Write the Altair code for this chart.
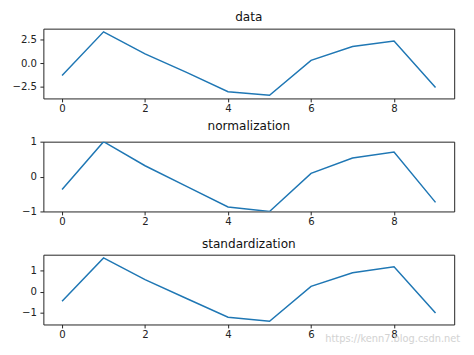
import altair as alt
import pandas as pd

xs = [0, 1, 2, 3, 4, 5, 6, 7, 8, 9]
data_vals = [-1.29, 3.33, 1.00, -0.95, -2.99, -3.37, 0.31, 1.77, 2.36, -2.54]
norm_vals = [-0.37, 1.00, 0.31, -0.28, -0.87, -1.00, 0.09, 0.53, 0.70, -0.74]
std_vals = [-0.45, 1.60, 0.57, -0.32, -1.21, -1.40, 0.25, 0.90, 1.18, -1.01]

titles = ["data", "normalization", "standardization"]
y_domains = [[-3.705, 3.665], [-1, 1], [-1.55, 1.75]]
y_ticks = [[-2.5, 0.0, 2.5], [-1.0, 0.0, 1.0], [-1.0, 0.0, 1.0]]
y_formats = [".1f", ".0f", ".0f"]
x_ticks = [0, 2, 4, 6, 8]

FONT = "DejaVu Sans"
W, H = 418, 71


def panel(vals, title, ydom, yt, yf, watermark=False):
    df = pd.DataFrame({"x": xs, "y": vals})
    line = alt.Chart(df).mark_line(color="#1f77b4", strokeWidth=1.5, clip=True).encode(
        x=alt.X("x:Q", scale=alt.Scale(domain=[-0.45, 9.45], nice=False, zero=False),
                axis=alt.Axis(values=x_ticks, format="d", title=None, grid=False,
                              domain=False, tickColor="#222", tickSize=3.5,
                              labelPadding=2, labelFontSize=10.3, labelColor="#222",
                              labelFont=FONT, labelOverlap=False)),
        y=alt.Y("y:Q", scale=alt.Scale(domain=ydom, nice=False, zero=False),
                axis=alt.Axis(values=yt, format=yf, title=None, grid=False,
                              domain=False, tickColor="#222", tickSize=3.5,
                              labelPadding=3.5, labelFontSize=10.3, labelColor="#222",
                              labelFont=FONT, minExtent=33, labelOverlap=False,
                              labelFlush=False, labelBound=False)),
    )
    layers = [line]
    if watermark:
        wm = alt.Chart(pd.DataFrame({"t": ["https://kenn7.blog.csdn.net"]})).mark_text(
            align="right", baseline="middle", fontSize=10, font=FONT, color="#c8c8c8",
            opacity=0.8
        ).encode(text="t:N", x=alt.value(W + 6), y=alt.value(H + 15))
        layers.append(wm)
    return alt.layer(*layers).properties(
        width=W, height=H,
        title=alt.TitleParams(title, fontSize=12.3, font=FONT, fontWeight="normal",
                              color="#111", offset=5, anchor="middle"),
    )


chart = alt.vconcat(
    panel(data_vals, titles[0], y_domains[0], y_ticks[0], y_formats[0]),
    panel(norm_vals, titles[1], y_domains[1], y_ticks[1], y_formats[1]),
    panel(std_vals, titles[2], y_domains[2], y_ticks[2], y_formats[2], watermark=True),
    spacing=44,
    bounds="flush",
).properties(
    padding={"left": 2, "top": 0, "right": 5, "bottom": 5},
).configure_view(stroke="#222", strokeWidth=1)

chart.save("out.html", embed_options={"renderer": "svg", "actions": False})
